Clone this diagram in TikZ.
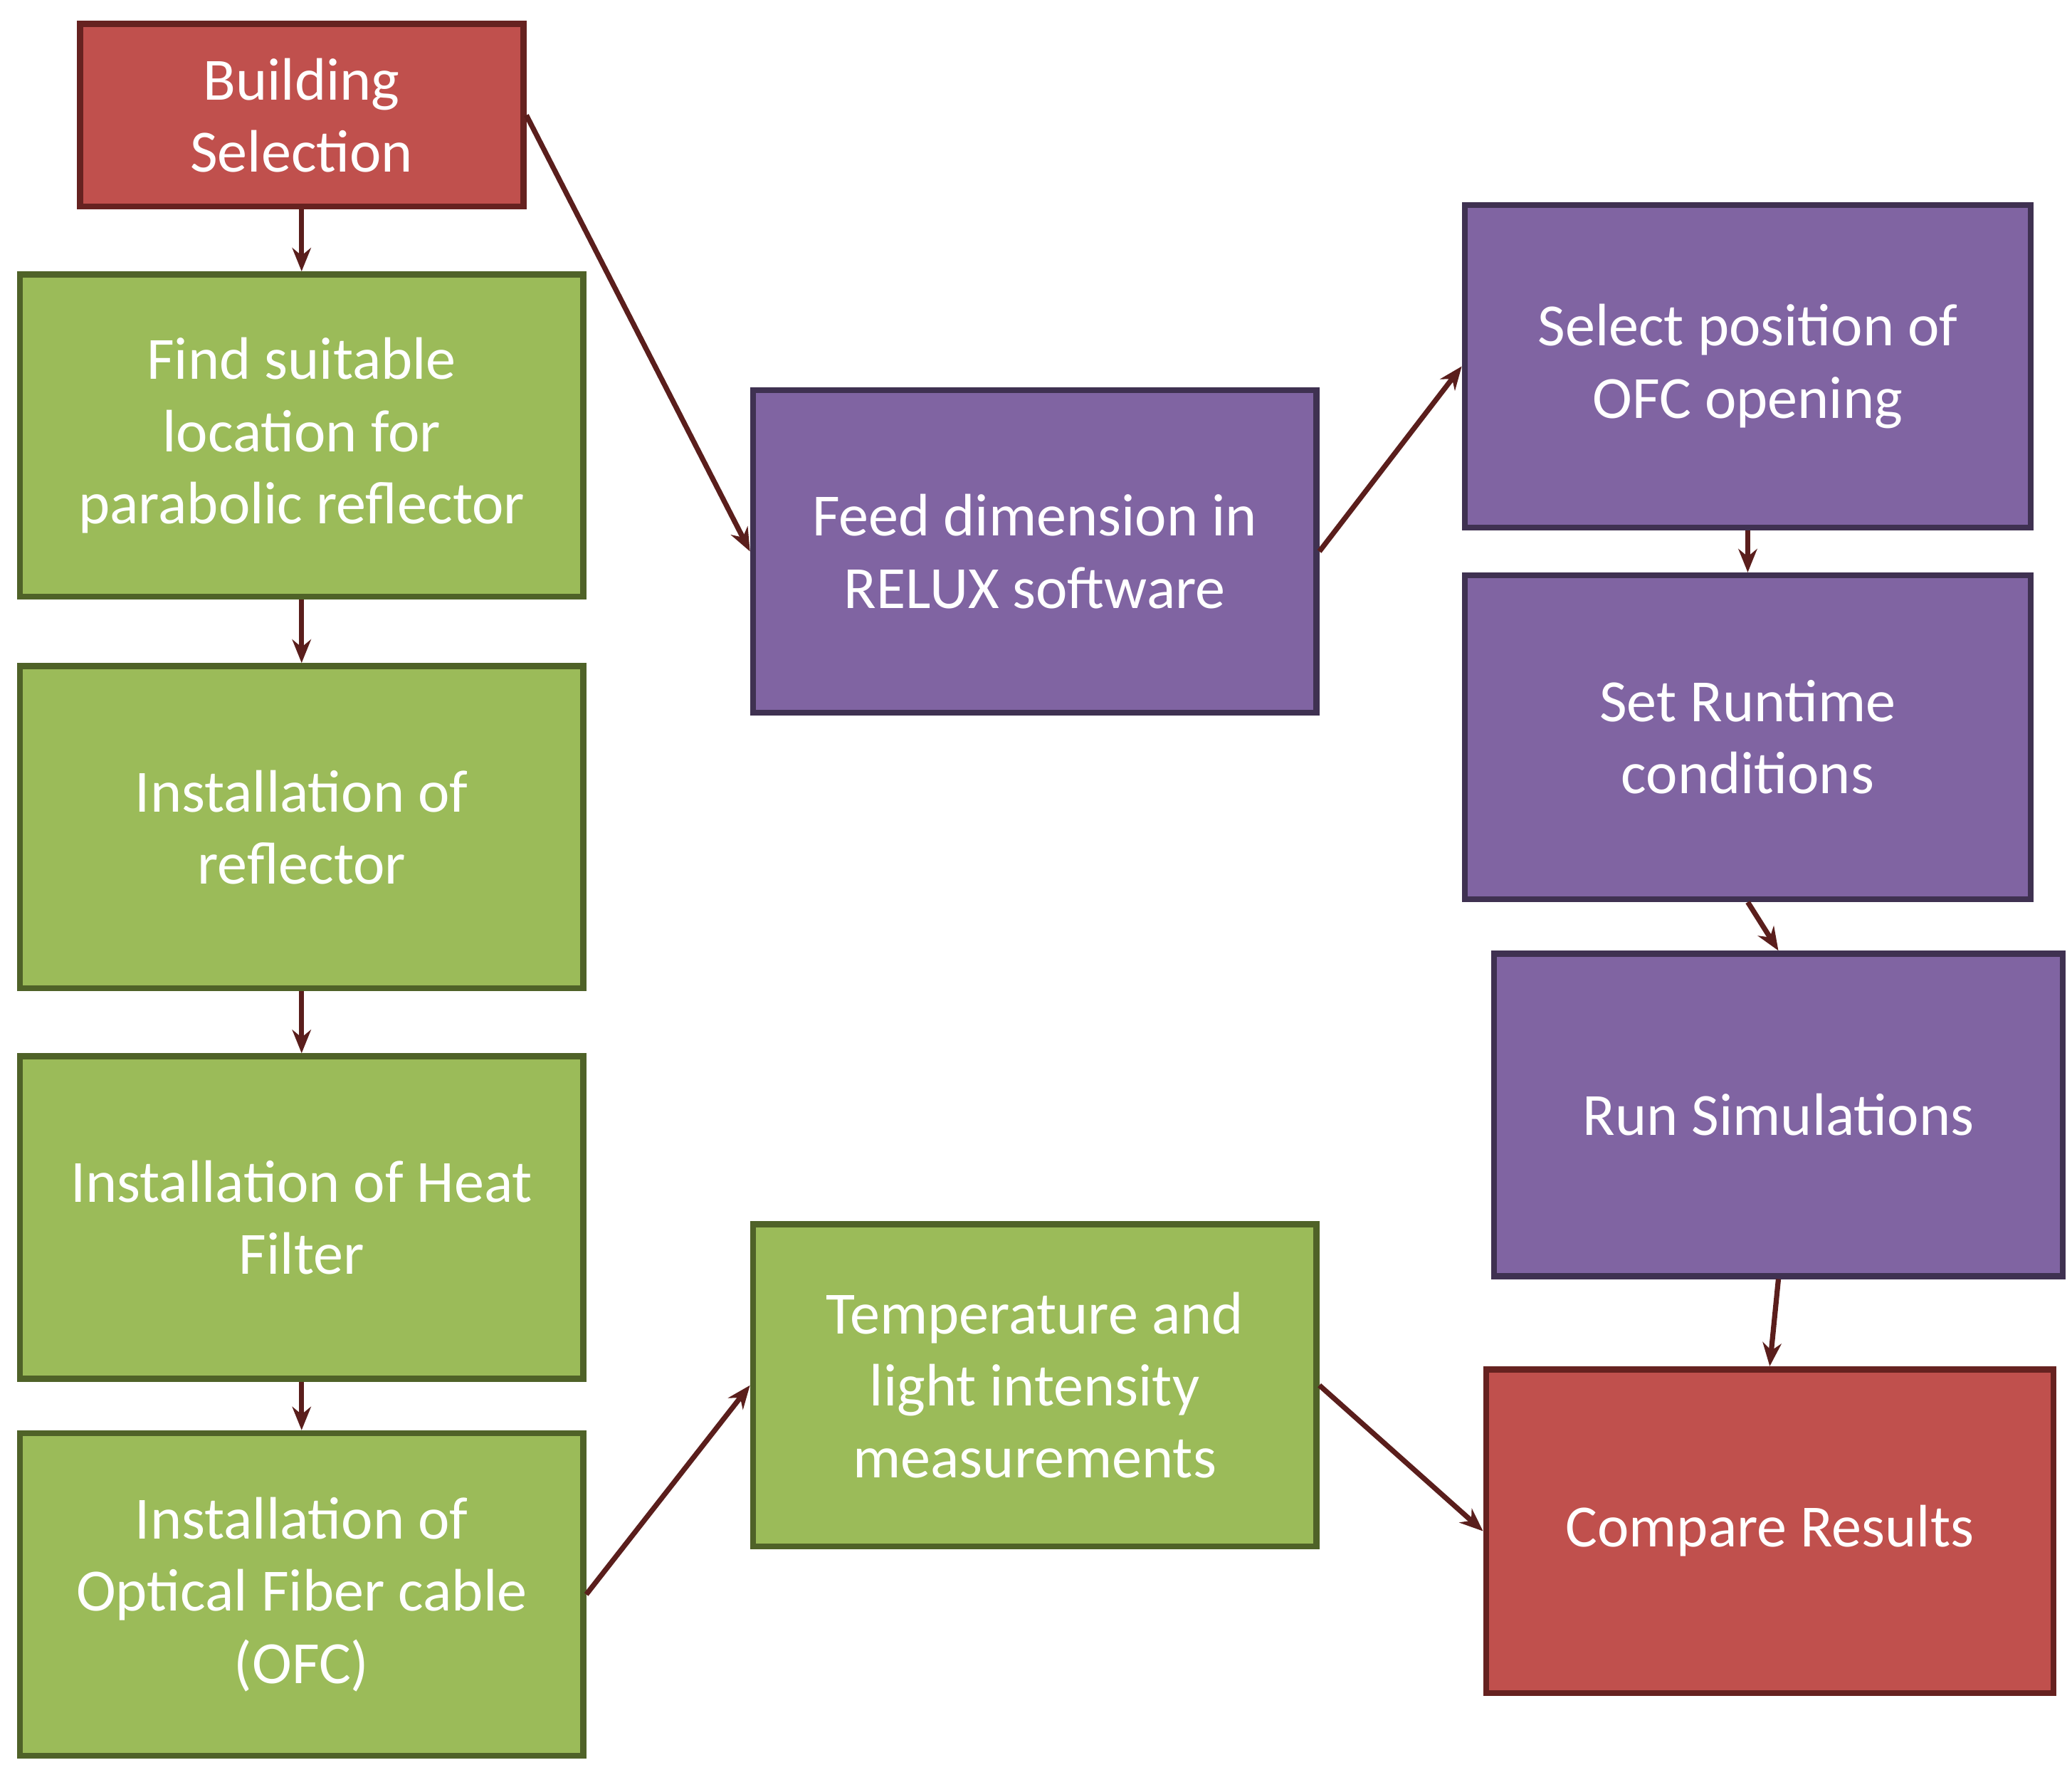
\documentclass[tikz,border=0pt]{standalone}
\usepackage{fontspec}
\setmainfont{Carlito}
\usetikzlibrary{arrows.meta}
\definecolor{rd}{HTML}{C0504D}\definecolor{rdb}{HTML}{7F2A28}
\definecolor{gr}{HTML}{9BBB59}\definecolor{grb}{HTML}{4F6228}
\definecolor{pu}{HTML}{8064A2}\definecolor{pub}{HTML}{3F3151}
\definecolor{ar}{HTML}{5A1E1C}
\tikzset{
 box/.style={draw,line width=1.3pt,align=center,text=white,inner sep=0pt,
  font=\fontsize{12.8}{15.4}\selectfont},
 red/.style={box,fill=rd,draw=rdb!80!black},
 grn/.style={box,fill=gr,draw=grb},
 pur/.style={box,fill=pu,draw=pub},
 W/.style={minimum width=4.23cm,minimum height=2.42cm},
 ar/.style={draw=ar,line width=1.1pt,-{Stealth[length=5pt,width=4pt]}}
}
\begin{document}
\begin{tikzpicture}
\useasboundingbox (0,0) rectangle (15.56,-13.25);
\node[red,minimum width=3.33cm,minimum height=1.37cm] (b) at (2.265,-0.865) {Building\\Selection};
\node[grn,W] (f) at (2.265,-3.27) {Find suitable\\location for\\parabolic reflector};
\node[grn,W] (i) at (2.265,-6.21) {Installation of\\reflector};
\node[grn,W] (h) at (2.265,-9.14) {Installation of Heat\\Filter};
\node[grn,W] (o) at (2.265,-11.97) {Installation of\\Optical Fiber cable\\(OFC)};
\node[pur,W] (fe) at (7.77,-4.14) {Feed dimension in\\RELUX software};
\node[grn,W] (t) at (7.77,-10.40) {Temperature and\\light intensity\\measurements};
\node[pur,W,minimum width=4.25cm] (s) at (13.125,-2.75) {Select position of\\OFC opening};
\node[pur,W,minimum width=4.25cm,minimum height=2.43cm] (r) at (13.125,-5.535) {Set Runtime\\conditions};
\node[pur,W,minimum width=4.27cm] (u) at (13.355,-8.37) {Run Simulations};
\node[red,W,minimum width=4.26cm,minimum height=2.43cm] (c) at (13.29,-11.495) {Compare Results};
\draw[ar] (b) -- (f);
\draw[ar] (f) -- (i);
\draw[ar] (i) -- (h);
\draw[ar] (h) -- (o);
\draw[ar] (b.east) -- (fe.west);
\draw[ar] (o.east) -- (t.west);
\draw[ar] (t.east) -- (c.west);
\draw[ar] (fe.east) -- (s.west);
\draw[ar] (s) -- (r);
\draw[ar] (r.south) -- (u.north);
\draw[ar] (u.south) -- (c.north);
\end{tikzpicture}
\end{document}
